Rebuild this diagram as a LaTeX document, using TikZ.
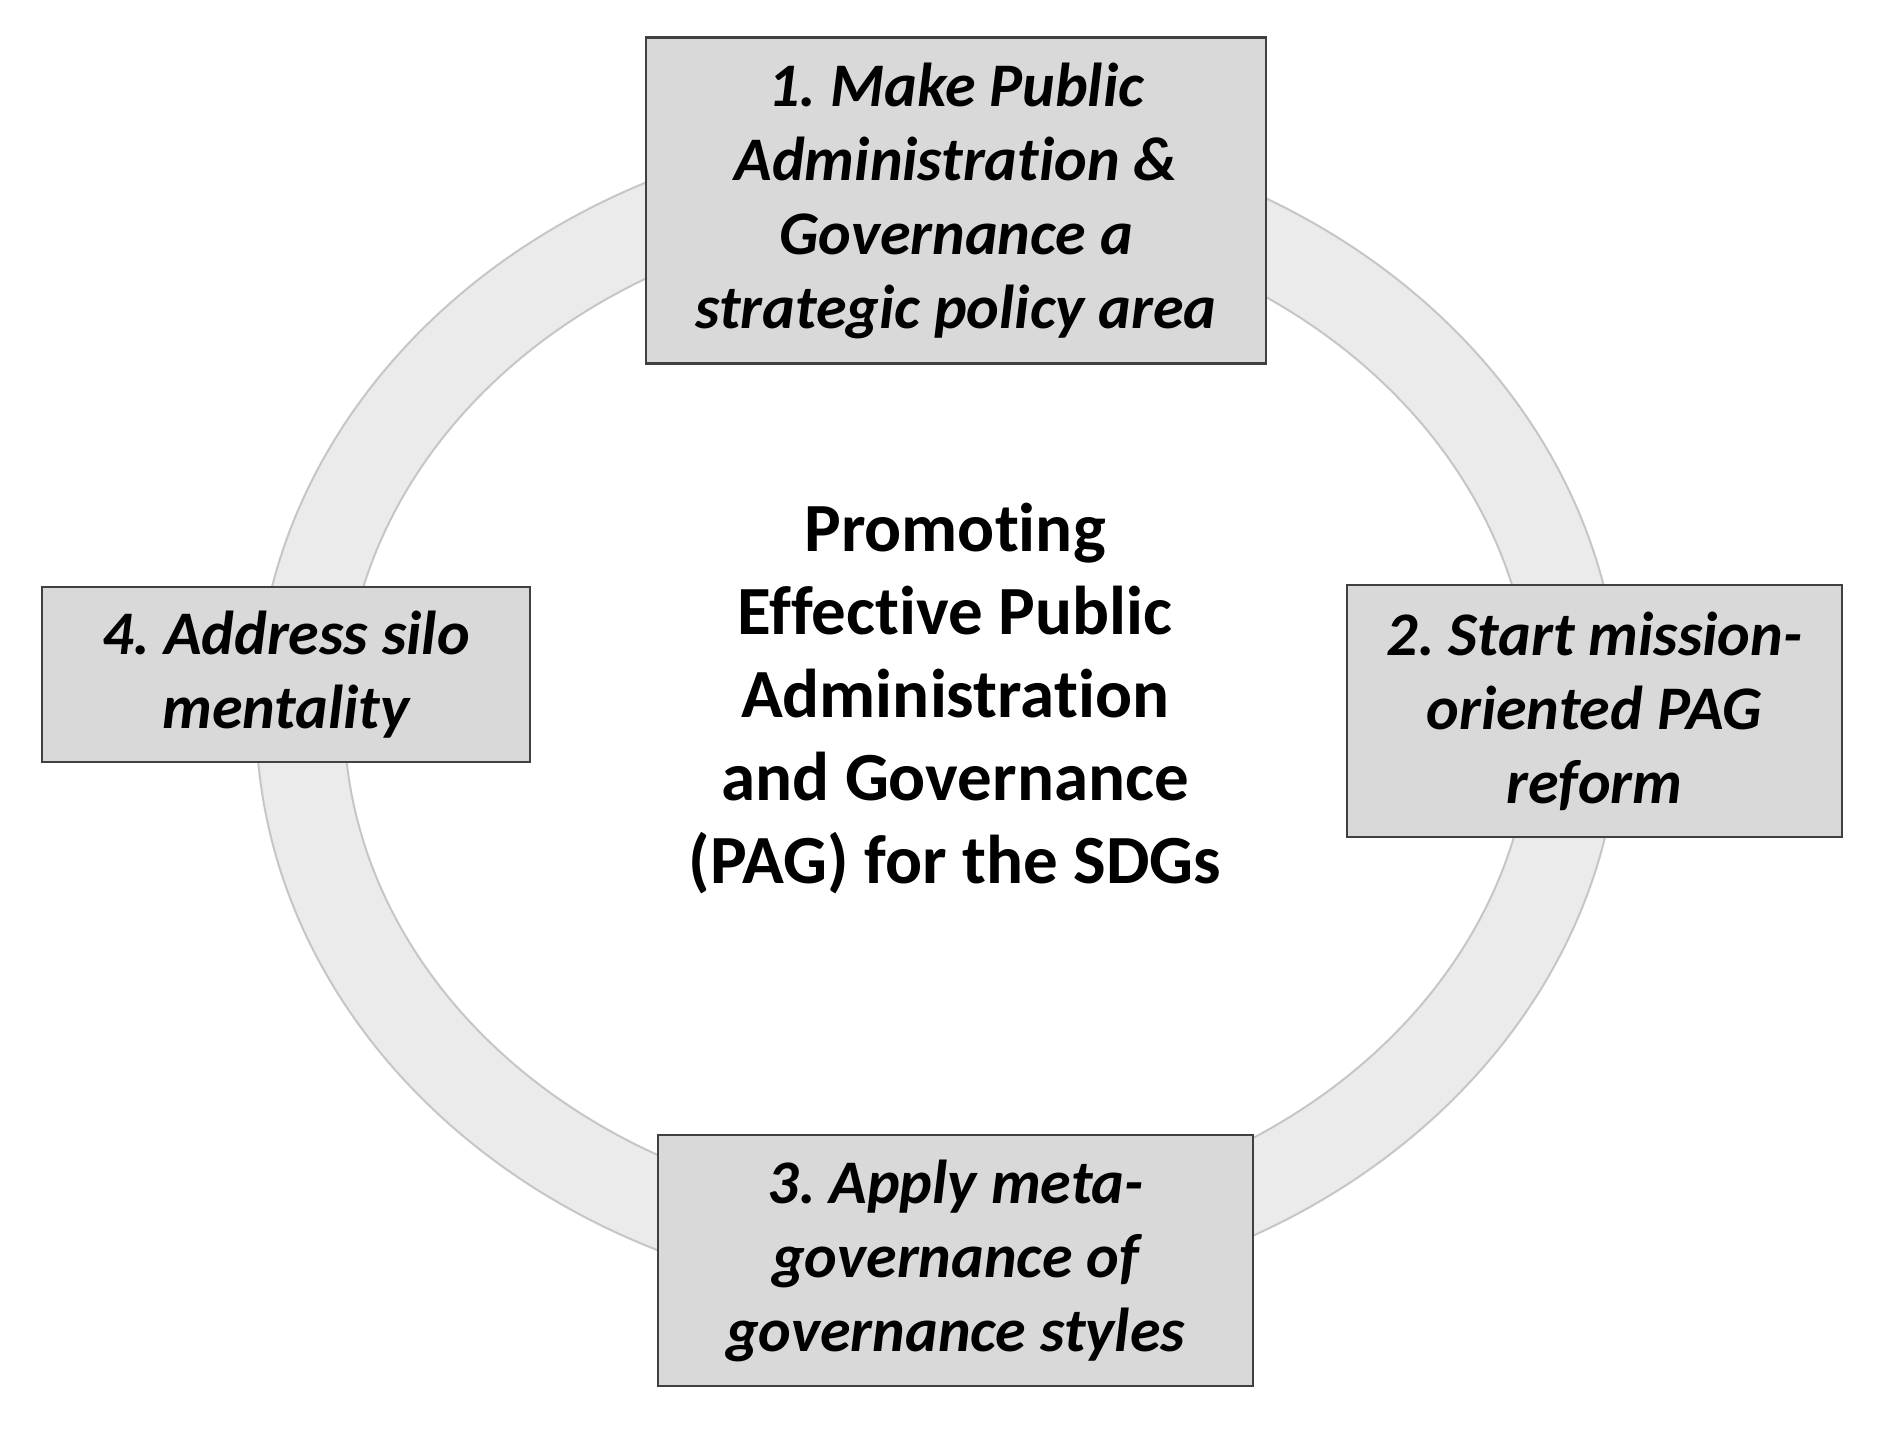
\documentclass[tikz,border=0pt]{standalone}
\usepackage{fontspec}
\setmainfont[Ligatures={NoCommon}]{Carlito}
\definecolor{ringfill}{HTML}{EBEBEB}
\definecolor{ringline}{HTML}{C6C6C6}
\definecolor{boxfill}{HTML}{D9D9D9}
\definecolor{boxline}{HTML}{404040}
\frenchspacing
\begin{document}
\begin{tikzpicture}[x=1pt,y=-1pt,
  stepbox/.style={draw=boxline, fill=boxfill, line width=2.6pt, inner sep=0pt,
    align=center, font=\fontsize{62}{74}\selectfont\bfseries\itshape},
  centertext/.style={align=center, inner sep=0pt, font=\fontsize{69}{83}\selectfont\bfseries}]
\useasboundingbox (0,0) rectangle (1888,1428);
% ring
\fill[ringfill, even odd rule] (938,714) ellipse [x radius=682, y radius=588]
  (938,714) ellipse [x radius=594, y radius=500];
\draw[ringline, line width=2pt] (938,714) ellipse [x radius=682, y radius=588];
\draw[ringline, line width=2pt] (938,714) ellipse [x radius=594, y radius=500];
% boxes
\node[stepbox, minimum width=620pt, minimum height=326pt] (s1) at (956,200.5)
  {1. Make Public\\Administration \&\\Governance a\\strategic policy area};
\node[stepbox, minimum width=495pt, minimum height=252pt] (s2) at (1594.5,711)
  {2. Start mission-\\oriented PAG\\reform};
\node[stepbox, minimum width=595pt, minimum height=251pt] (s3) at (955.5,1260.5)
  {3. Apply meta-\\governance of\\governance styles};
\node[stepbox, minimum width=488pt, minimum height=175pt] (s4) at (286,674.5)
  {4. Address silo\\mentality};
% centre
\node[centertext] (c) at (955,698)
  {Promoting\\Effective Public\\Administration\\and Governance\\(PAG) for the SDGs};
\end{tikzpicture}
\end{document}
